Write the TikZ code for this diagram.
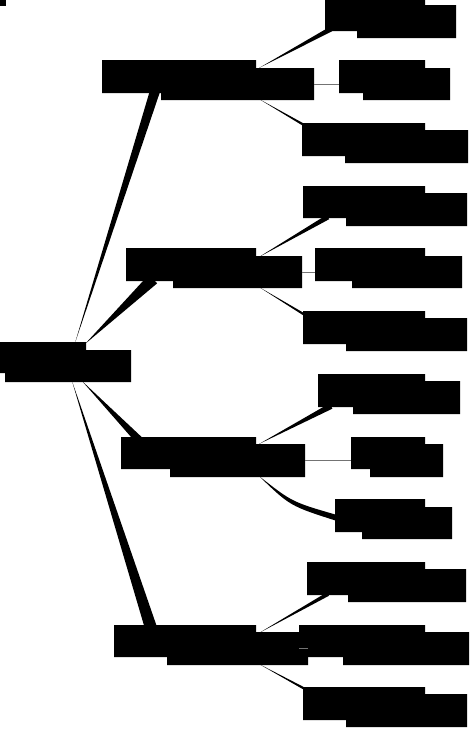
\documentclass[tikz,border=0pt]{standalone}
\usetikzlibrary{calc}
\tikzset{
  blk/.style={draw=none,fill=none,inner sep=0pt,outer sep=0pt,anchor=north west},
  thinlink/.style={draw=black!55,line width=0.8pt},
  wedgefill/.style={fill=black},
  nodefill/.style={fill=black}
}
\newcommand{\blkbox}[5]{\node[blk,minimum width={(#4-#2)*1pt},minimum height={(#5-#3)*1pt}] (#1) at (#2,#3) {};}
\newcommand{\twobox}[9]{\blkbox{#1a}{#2}{#3}{#4}{#5}\blkbox{#1b}{#6}{#7}{#8}{#9}%
  \path[nodefill] (#1a.north west) -- (#1a.north east) -- (#1a.north east |- #1b.north) -- (#1b.north east)
     -- (#1b.south east) -- (#1b.south west) -- (#1b.south west |- #1a.south) -- (#1a.south west) -- cycle;}
\newcommand{\wedgeconn}[3]{\path[wedgefill] (#1) -- ($(#2)!#3pt!90:(#1)$) -- ($(#2)!#3pt!-90:(#1)$) -- cycle;}
\begin{document}
\begin{tikzpicture}[x=1pt,y=-1pt]
\useasboundingbox (0,0) rectangle (474,732);
% corner mark
\blkbox{corner}{0}{0}{6}{6}
\fill[black] (corner.north west) rectangle (corner.south east);
% root
\twobox{root}{0}{342}{86}{373}{5}{350}{131}{382}
% branches
\twobox{bA}{102}{60}{256}{93}{161}{68}{314}{100}
\twobox{bB}{126}{248}{256}{281}{173}{256}{302}{288}
\twobox{bC}{121}{437}{256}{469}{170}{444}{305}{477}
\twobox{bD}{114}{625}{256}{657}{167}{632}{308}{665}
% leaves
\twobox{lA}{325}{0}{425}{31}{357}{5}{456}{38}
\twobox{lB}{339}{60}{425}{93}{363}{68}{450}{100}
\twobox{lC}{302}{123}{425}{156}{345}{130}{468}{163}
\twobox{lD}{303}{186}{425}{218}{346}{193}{467}{226}
\twobox{lE}{315}{248}{425}{281}{352}{256}{462}{288}
\twobox{lF}{303}{311}{425}{344}{346}{318}{467}{351}
\twobox{lG}{318}{374}{425}{407}{353}{381}{460}{414}
\twobox{lH}{351}{437}{425}{469}{370}{444}{443}{477}
\twobox{lI}{335}{499}{425}{532}{362}{507}{452}{539}
\twobox{lJ}{307}{562}{425}{595}{348}{569}{466}{602}
\twobox{lK}{299}{625}{425}{657}{343}{632}{469}{665}
\twobox{lL}{303}{687}{425}{720}{346}{694}{467}{727}
% connector end points
\coordinate (rootA) at (75,343);  \coordinate (bAin) at (155,91);
\coordinate (rootB) at (85,344);  \coordinate (bBin) at (153,279);
\coordinate (rootC) at (82,381);  \coordinate (bCin) at (139,440);
\coordinate (rootD) at (72,381);  \coordinate (bDin) at (151,628);
\coordinate (bAup) at (259,68);   \coordinate (lAin) at (331,29);
\coordinate (bAdn) at (259,99);   \coordinate (lCin) at (304,125);
\coordinate (bBup) at (259,257);  \coordinate (lDin) at (328,217);
\coordinate (bBdn) at (259,287);  \coordinate (lFin) at (305,315);
\coordinate (bCup) at (259,444);  \coordinate (lGin) at (331,406);
\coordinate (bCdn) at (259,476);  \coordinate (lIin) at (337,518);
\coordinate (bDup) at (259,633);  \coordinate (lJin) at (328,594);
\coordinate (bDdn) at (259,664);  \coordinate (lLin) at (305,689);
% root connectors
\wedgeconn{rootA}{bAin}{5}
\wedgeconn{rootB}{bBin}{6}
\wedgeconn{rootC}{bCin}{4}
\wedgeconn{rootD}{bDin}{6}
% branch connectors
\wedgeconn{bAup}{lAin}{2.5}
\wedgeconn{bAdn}{lCin}{1.2}
\wedgeconn{bBup}{lDin}{2.5}
\wedgeconn{bBdn}{lFin}{1.2}
\wedgeconn{bCup}{lGin}{3}
\path[wedgefill] (bCdn) .. controls (292,502) .. ($(lIin)+(0,-3)$) -- ($(lIin)+(0,3)$) .. controls (290,506) .. (bCdn);
\wedgeconn{bDup}{lJin}{2}
\wedgeconn{bDdn}{lLin}{1.2}
% straight links
\draw[thinlink] (bAb.east) -- (lBa.west |- bAb.east);
\draw[thinlink] (bBb.east) -- (lEa.west |- bBb.east);
\draw[thinlink] (bCb.east) -- (lHa.west |- bCb.east);
\draw[thinlink] (bDb.east) -- (lKa.west |- bDb.east);
\end{tikzpicture}
\end{document}
